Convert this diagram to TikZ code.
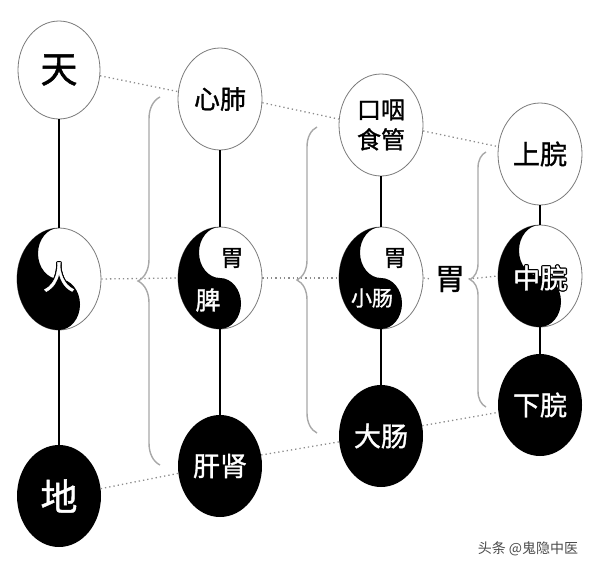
\documentclass[tikz,border=0pt]{standalone}
\usepackage{fontspec}
\setmainfont{Noto Sans CJK SC}[BoldFont={Noto Sans CJK SC},BoldFeatures={FakeBold=1.2}]
\usetikzlibrary{shapes.geometric,decorations.pathreplacing,calc}
\definecolor{rim}{HTML}{7A7A7A}
\definecolor{dotline}{HTML}{8C8C8C}
\definecolor{bracegray}{HTML}{A8A8A8}
\newcommand\sz[2]{\fontsize{#1pt}{#2pt}\selectfont\bfseries}
% black half of a yin-yang, drawn on an ellipse node
\newcommand\yinyang[1]{%
  \fill[black,shift={(#1.center)},yscale=-1]
    (0,51) arc[start angle=90,end angle=270,x radius=42,y radius=51]
    arc[start angle=-90,end angle=90,x radius=21,y radius=25.5]
    arc[start angle=270,end angle=90,x radius=21,y radius=25.5] -- cycle;}
% white text with a thin black rim
\newcommand\halo[3]{%
  \foreach \a in {0,45,...,315}
    \node[font=#2,text=black] at ($(#1)+(\a:1.2)$) {#3};
  \node[font=#2,text=white] at (#1) {#3};}

\begin{document}
\begin{tikzpicture}[x=1pt,y=-1pt,
  disc/.style={ellipse,draw=rim,line width=0.8pt,fill=white,text=black,
    minimum width=84,minimum height=102,inner sep=0pt},
  dark/.style={ellipse,fill=black,text=white,
    minimum width=84,minimum height=102,inner sep=0pt},
  taiji/.style={disc},
  stem/.style={line width=2.6pt,black},
  link/.style={dotline,line width=1.3pt,dash pattern=on 1.3pt off 3pt},
  curly/.style={bracegray,line width=1.4pt,decorate,
    decoration={brace,amplitude=#1}}]
  \useasboundingbox (0,0) rectangle (596,570);

  \def\ca{59}
  \def\cb{220}
  \def\cc{381}
  \def\cd{540}

  % top row
  \node[disc,minimum width=82,minimum height=98,font=\sz{37}{40}] (tian) at (\ca,70) {天};
  \node[disc,font=\sz{26}{30}] (xinfei) at (\cb,99) {心肺};
  \node[disc,font=\sz{24}{30},align=center] (kouyan) at (\cc,125) {口咽\\食管};
  \node[disc,font=\sz{27}{30}] (shangwan) at (\cd,154) {上脘};

  % middle row
  \node[taiji] (ren) at (\ca,279) {};
  \node[taiji] (weipi) at (\cb,278) {};
  \node[taiji] (weichang) at (\cc,278) {};
  \node[taiji] (zhongwan) at (\cd,276) {};
  \yinyang{ren}
  \yinyang{weipi}
  \yinyang{weichang}
  \yinyang{zhongwan}
  \halo{\ca,277}{\sz{32}{35}}{人}
  \node[font=\sz{23}{24}] (wei1) at (232,258) {胃};
  \node[font=\sz{25}{28},text=white] (pi) at (208,300) {脾};
  \node[font=\sz{23}{24}] (wei2) at (395,258) {胃};
  \node[font=\sz{21}{23},text=white] (xiaochang) at (372,298) {小肠};
  \halo{\cd,278}{\sz{27}{30}}{中脘}
  \node[font=\sz{30}{32}] (weilabel) at (450,279) {胃};

  % bottom row
  \node[dark,font=\sz{37}{40}] (di) at (\ca,496) {地};
  \node[dark,font=\sz{27}{30}] (ganshen) at (\cb,466) {肝肾};
  \node[dark,font=\sz{27}{30}] (dachang) at (\cc,436) {大肠};
  \node[dark,font=\sz{27}{30}] (xiawan) at (\cd,405) {下脘};

  % columns
  \draw[stem] (tian) -- (ren);
  \draw[stem] (ren) -- (di);
  \draw[stem] (xinfei) -- (weipi);
  \draw[stem] (weipi) -- (ganshen);
  \draw[stem] (kouyan) -- (weichang);
  \draw[stem] (weichang) -- (dachang);
  \draw[stem] (shangwan) -- (zhongwan);
  \draw[stem] (zhongwan) -- (xiawan);

  % dotted rows
  \draw[link] (tian.-8) -- (xinfei.170);
  \draw[link] (xinfei.-5) -- (kouyan.172);
  \draw[link] (kouyan.-8) -- (shangwan.170);
  \draw[link] (ren.east) -- (weipi.west);
  \draw[link] (weipi.east) -- (weichang.west);
  \draw[link] (weichang.east) -- (weilabel.west);
  \draw[link] (weilabel.east) -- (zhongwan.west);
  \draw[link] (di.10) -- (ganshen.190);
  \draw[link] (ganshen.15) -- (dachang.188);
  \draw[link] (dachang.14) -- (xiawan.190);

  % braces
  \draw[curly=22pt] (160,465) -- (160,97);
  \draw[curly=20pt] (317,433) -- (317,127);
  \draw[curly=16pt] (486,407) -- (486,152);

  \node[font=\fontsize{14pt}{16pt}\selectfont,text=black!70] (mark) at (528,549) {头条 @鬼隐中医};
\end{tikzpicture}
\end{document}
